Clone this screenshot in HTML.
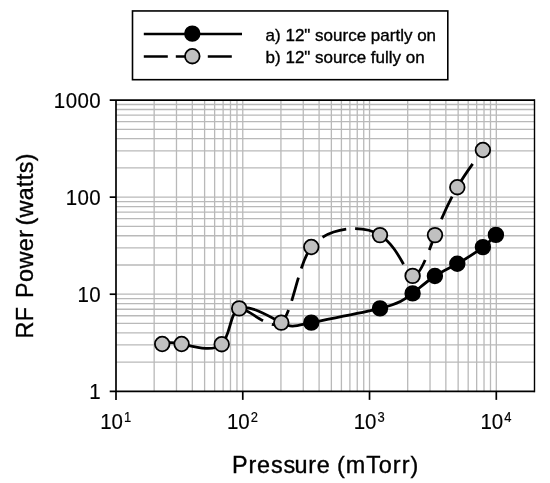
<!DOCTYPE html>
<html><head><meta charset="utf-8"><title>RF Power vs Pressure</title>
<style>
html,body{margin:0;padding:0;background:#fff;}
svg{display:block;font-family:"Liberation Sans",Arial,Helvetica,sans-serif;fill:#000;}
text{stroke:#000;stroke-width:0.35px;}
.tk text{stroke-width:0.15px;}
</style></head><body>
<svg width="550" height="483" viewBox="0 0 550 483">
<rect width="550" height="483" fill="#fff"/>
<g stroke="#b9b9b9" stroke-width="1.3" fill="none">
<line x1="154.16" y1="100.07" x2="154.16" y2="391.28"/>
<line x1="176.48" y1="100.07" x2="176.48" y2="391.28"/>
<line x1="192.32" y1="100.07" x2="192.32" y2="391.28"/>
<line x1="204.61" y1="100.07" x2="204.61" y2="391.28"/>
<line x1="214.64" y1="100.07" x2="214.64" y2="391.28"/>
<line x1="223.13" y1="100.07" x2="223.13" y2="391.28"/>
<line x1="230.48" y1="100.07" x2="230.48" y2="391.28"/>
<line x1="236.97" y1="100.07" x2="236.97" y2="391.28"/>
<line x1="242.77" y1="100.07" x2="242.77" y2="391.28"/>
<line x1="280.93" y1="100.07" x2="280.93" y2="391.28"/>
<line x1="303.25" y1="100.07" x2="303.25" y2="391.28"/>
<line x1="319.09" y1="100.07" x2="319.09" y2="391.28"/>
<line x1="331.37" y1="100.07" x2="331.37" y2="391.28"/>
<line x1="341.41" y1="100.07" x2="341.41" y2="391.28"/>
<line x1="349.90" y1="100.07" x2="349.90" y2="391.28"/>
<line x1="357.25" y1="100.07" x2="357.25" y2="391.28"/>
<line x1="363.73" y1="100.07" x2="363.73" y2="391.28"/>
<line x1="369.53" y1="100.07" x2="369.53" y2="391.28"/>
<line x1="407.69" y1="100.07" x2="407.69" y2="391.28"/>
<line x1="430.02" y1="100.07" x2="430.02" y2="391.28"/>
<line x1="445.85" y1="100.07" x2="445.85" y2="391.28"/>
<line x1="458.14" y1="100.07" x2="458.14" y2="391.28"/>
<line x1="468.18" y1="100.07" x2="468.18" y2="391.28"/>
<line x1="476.66" y1="100.07" x2="476.66" y2="391.28"/>
<line x1="484.02" y1="100.07" x2="484.02" y2="391.28"/>
<line x1="490.50" y1="100.07" x2="490.50" y2="391.28"/>
<line x1="496.30" y1="100.07" x2="496.30" y2="391.28"/>
<line x1="116.00" y1="362.06" x2="534.50" y2="362.06"/>
<line x1="116.00" y1="344.97" x2="534.50" y2="344.97"/>
<line x1="116.00" y1="332.84" x2="534.50" y2="332.84"/>
<line x1="116.00" y1="323.43" x2="534.50" y2="323.43"/>
<line x1="116.00" y1="315.74" x2="534.50" y2="315.74"/>
<line x1="116.00" y1="309.25" x2="534.50" y2="309.25"/>
<line x1="116.00" y1="303.62" x2="534.50" y2="303.62"/>
<line x1="116.00" y1="298.65" x2="534.50" y2="298.65"/>
<line x1="116.00" y1="294.21" x2="534.50" y2="294.21"/>
<line x1="116.00" y1="264.99" x2="534.50" y2="264.99"/>
<line x1="116.00" y1="247.90" x2="534.50" y2="247.90"/>
<line x1="116.00" y1="235.77" x2="534.50" y2="235.77"/>
<line x1="116.00" y1="226.36" x2="534.50" y2="226.36"/>
<line x1="116.00" y1="218.67" x2="534.50" y2="218.67"/>
<line x1="116.00" y1="212.18" x2="534.50" y2="212.18"/>
<line x1="116.00" y1="206.55" x2="534.50" y2="206.55"/>
<line x1="116.00" y1="201.58" x2="534.50" y2="201.58"/>
<line x1="116.00" y1="197.14" x2="534.50" y2="197.14"/>
<line x1="116.00" y1="167.92" x2="534.50" y2="167.92"/>
<line x1="116.00" y1="150.83" x2="534.50" y2="150.83"/>
<line x1="116.00" y1="138.70" x2="534.50" y2="138.70"/>
<line x1="116.00" y1="129.29" x2="534.50" y2="129.29"/>
<line x1="116.00" y1="121.60" x2="534.50" y2="121.60"/>
<line x1="116.00" y1="115.11" x2="534.50" y2="115.11"/>
<line x1="116.00" y1="109.48" x2="534.50" y2="109.48"/>
<line x1="116.00" y1="104.51" x2="534.50" y2="104.51"/>
</g>
<g stroke="#000" stroke-width="1.7" fill="none">
<line x1="109.7" y1="100.07" x2="534.5" y2="100.07"/>
<line x1="109.7" y1="391.28" x2="534.5" y2="391.28"/>
<line x1="116.0" y1="100.07" x2="116.0" y2="399.88"/>
<line x1="534.5" y1="99.22" x2="534.5" y2="392.13" stroke-width="1.4"/>
<line x1="242.77" y1="391.28" x2="242.77" y2="399.88"/>
<line x1="369.53" y1="391.28" x2="369.53" y2="399.88"/>
<line x1="496.30" y1="391.28" x2="496.30" y2="399.88"/>
<line x1="109.70" y1="294.21" x2="116.00" y2="294.21"/>
<line x1="109.70" y1="197.14" x2="116.00" y2="197.14"/>
</g>
<path d="M162.20 344.00 C166.08 342.78 169.95 341.56 181.60 344.00 C193.25 346.44 212.66 352.53 221.70 344.20 C230.74 335.87 229.39 313.14 239.20 308.40 C249.01 303.66 269.98 316.93 281.30 322.60 C292.62 328.27 294.28 326.33 311.30 322.60 C328.32 318.87 360.70 313.35 380.00 308.40 C399.30 303.45 405.52 299.06 412.60 293.40 C419.68 287.74 427.62 280.82 434.90 276.00 C442.18 271.18 448.81 268.45 457.30 263.70 C465.79 258.95 476.16 252.19 482.90 247.05 C489.64 241.91 492.77 238.41 495.90 234.90" fill="none" stroke="#000" stroke-width="2.8"/>
<circle cx="311.3" cy="322.6" r="7.3" fill="#000" stroke="#000" stroke-width="1.8"/>
<circle cx="380.0" cy="308.4" r="7.3" fill="#000" stroke="#000" stroke-width="1.8"/>
<circle cx="412.6" cy="293.4" r="7.3" fill="#000" stroke="#000" stroke-width="1.8"/>
<circle cx="434.9" cy="276.0" r="7.3" fill="#000" stroke="#000" stroke-width="1.8"/>
<circle cx="457.3" cy="263.7" r="7.3" fill="#000" stroke="#000" stroke-width="1.8"/>
<circle cx="482.9" cy="247.1" r="7.3" fill="#000" stroke="#000" stroke-width="1.8"/>
<circle cx="495.9" cy="234.9" r="7.3" fill="#000" stroke="#000" stroke-width="1.8"/>
<path d="M162.20 344.00 C166.08 342.63 169.95 341.25 181.60 344.00 C193.25 346.75 212.66 353.62 221.70 344.20 C230.74 334.78 229.39 309.06 239.20 308.40 C249.01 307.74 269.98 332.13 281.30 322.60 C292.62 313.07 297.68 265.08 311.30 247.00 C324.92 228.92 360.70 222.65 380.00 235.10 C399.30 247.55 405.53 274.21 412.60 275.90 C419.67 277.59 427.57 254.32 435.00 235.10 C442.43 215.88 449.39 200.71 457.30 187.20 C465.21 173.69 474.05 161.85 482.90 150.00" fill="none" stroke="#000" stroke-width="2.8" stroke-dasharray="0 99.9 29.8 9.6 24.6 9.8 23.9 9.6 24.2 14.7 25.1 8.9 63.8 12.6 23.8 10.8 19.5 13.4 25.1 8.4 30.3 37.9"/>
<circle cx="162.2" cy="344.0" r="7.3" fill="#c0c0c0" stroke="#000" stroke-width="1.8"/>
<circle cx="181.6" cy="344.0" r="7.3" fill="#c0c0c0" stroke="#000" stroke-width="1.8"/>
<circle cx="221.7" cy="344.2" r="7.3" fill="#c0c0c0" stroke="#000" stroke-width="1.8"/>
<circle cx="239.2" cy="308.4" r="7.3" fill="#c0c0c0" stroke="#000" stroke-width="1.8"/>
<circle cx="281.3" cy="322.6" r="7.3" fill="#c0c0c0" stroke="#000" stroke-width="1.8"/>
<circle cx="311.3" cy="247.0" r="7.3" fill="#c0c0c0" stroke="#000" stroke-width="1.8"/>
<circle cx="380.0" cy="235.1" r="7.3" fill="#c0c0c0" stroke="#000" stroke-width="1.8"/>
<circle cx="412.6" cy="275.9" r="7.3" fill="#c0c0c0" stroke="#000" stroke-width="1.8"/>
<circle cx="435.0" cy="235.1" r="7.3" fill="#c0c0c0" stroke="#000" stroke-width="1.8"/>
<circle cx="457.3" cy="187.2" r="7.3" fill="#c0c0c0" stroke="#000" stroke-width="1.8"/>
<circle cx="482.9" cy="150.0" r="7.3" fill="#c0c0c0" stroke="#000" stroke-width="1.8"/>
<g class="tk">
<text transform="translate(100.2,429.1) scale(1,1.065)" font-size="20.5">10</text>
<text transform="translate(123.9,421.9) scale(1,1.065)" font-size="13">1</text>
<text transform="translate(226.9,429.1) scale(1,1.065)" font-size="20.5">10</text>
<text transform="translate(250.7,421.9) scale(1,1.065)" font-size="13">2</text>
<text transform="translate(353.7,429.1) scale(1,1.065)" font-size="20.5">10</text>
<text transform="translate(377.4,421.9) scale(1,1.065)" font-size="13">3</text>
<text transform="translate(480.4,429.1) scale(1,1.065)" font-size="20.5">10</text>
<text transform="translate(504.2,421.9) scale(1,1.065)" font-size="13">4</text>
<text transform="translate(101.2,399.2) scale(1,1.065)" font-size="20.5" letter-spacing="0.45" text-anchor="end">1</text>
<text transform="translate(101.2,302.1) scale(1,1.065)" font-size="20.5" letter-spacing="0.45" text-anchor="end">10</text>
<text transform="translate(101.2,205.0) scale(1,1.065)" font-size="20.5" letter-spacing="0.45" text-anchor="end">100</text>
<text transform="translate(101.2,108.0) scale(1,1.065)" font-size="20.5" letter-spacing="0.45" text-anchor="end">1000</text>
</g>
<text y="472.5" font-size="23.4"><tspan x="232" dx="0 0 0 0 0 -1.3 -0.1 -0.1" letter-spacing="0.82">Pressure</tspan> <tspan x="336.9" letter-spacing="1.0">(mTorr)</tspan></text>
<text transform="translate(32.5,0) rotate(-90)" font-size="23.4"><tspan x="-338.5" letter-spacing="0.45">RF</tspan> <tspan x="-298" letter-spacing="0.45">Power</tspan> <tspan x="-225.5" letter-spacing="0.3">(watts)</tspan></text>
<rect x="132.5" y="10.95" width="315.3" height="68.75" fill="#fff" stroke="#000" stroke-width="1.6"/>
<line x1="143.8" y1="34.1" x2="242" y2="34.1" stroke="#000" stroke-width="2.5"/>
<circle cx="192.3" cy="33.6" r="7.3" fill="#000" stroke="#000" stroke-width="1.8"/>
<line x1="143.8" y1="56.5" x2="232" y2="56.5" stroke="#000" stroke-width="2.5" stroke-dasharray="24 8"/>
<circle cx="192.3" cy="56.2" r="7.3" fill="#c0c0c0" stroke="#000" stroke-width="1.8"/>
<text x="265.6" y="40.5" font-size="17">a) 12" source partly on</text>
<text x="265.6" y="63.1" font-size="17">b) 12" source fully on</text>
</svg>
</body></html>
